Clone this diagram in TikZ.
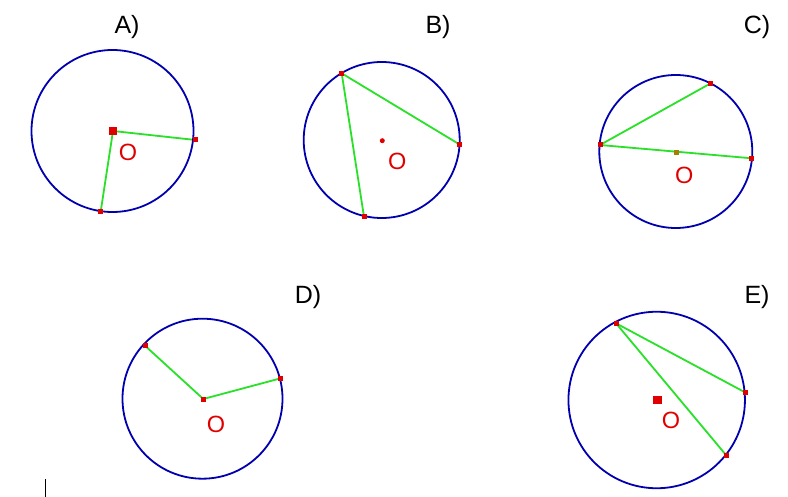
\documentclass[tikz,border=0pt]{standalone}
\usepackage{fontspec}
\setmainfont{Liberation Sans}
\usetikzlibrary{backgrounds}
\definecolor{rimblue}{RGB}{0,0,175}
\definecolor{chordgreen}{RGB}{40,225,40}
\definecolor{dotred}{RGB}{225,0,0}
\begin{document}
\begin{tikzpicture}[x=1pt, y=-1pt,
rim/.style={circle, draw=rimblue, line width=1.8pt, inner sep=0pt},
pt/.style={rectangle, fill=dotred, inner sep=0pt, minimum size=5pt},
bigpt/.style={rectangle, fill=dotred, inner sep=0pt, minimum size=8.5pt},
chord/.style={draw=chordgreen, line width=1.8pt},
tag/.style={anchor=base, inner sep=0pt, font=\fontsize{25}{25}\selectfont},
olabel/.style={text=dotred, inner sep=0pt, font=\fontsize{23.5}{23.5}\selectfont}
]
\useasboundingbox (0,0) rectangle (788,497);
%Circles
\node[rim, minimum size=162pt]   (cA) at (112.5,131) {};
\node[rim, minimum size=156pt]   (cB) at (381.7,140) {};
\node[rim, minimum size=153pt]   (cC) at (675.8,151.5) {};
\node[rim, minimum size=160pt]   (cD) at (202.5,398.7) {};
\node[rim, minimum size=176.5pt] (cE) at (656.7,400) {};
%Points
\node[bigpt] (oA) at (113,131) {};
\node[pt]    (a1) at (195.5,140) {};
\node[pt]    (a2) at (100.7,211.5) {};
\node[circle, fill=dotred, inner sep=0pt, minimum size=5pt] (oB) at (382.3,140.7) {};
\node[pt]    (b1) at (341.7,73.3) {};
\node[pt]    (b2) at (459.3,144.3) {};
\node[pt]    (b3) at (364,216.7) {};
\node[pt, fill=olive!80!red] (oC) at (676,152.7) {};
\node[pt]    (c1) at (600,145) {};
\node[pt]    (c2) at (710.7,83.3) {};
\node[pt]    (c3) at (751.7,158.3) {};
\node[pt]    (oD) at (203.3,399) {};
\node[pt]    (d1) at (145,345.7) {};
\node[pt]    (d2) at (280.7,378.3) {};
\node[bigpt] (oE) at (657.3,400) {};
\node[pt]    (e1) at (616,323.3) {};
\node[pt]    (e2) at (745,392.3) {};
\node[pt]    (e3) at (726,455) {};
%Lines
\begin{scope}[on background layer]
\draw[chord] (oA.center) -- (a1.center);
\draw[chord] (oA.center) -- (a2.center);
\draw[chord] (b1.center) -- (b2.center);
\draw[chord] (b1.center) -- (b3.center);
\draw[chord] (c1.center) -- (c2.center);
\draw[chord] (c1.center) -- (c3.center);
\draw[chord] (oD.center) -- (d1.center);
\draw[chord] (oD.center) -- (d2.center);
\draw[chord] (e1.center) -- (e2.center);
\draw[chord] (e1.center) -- (e3.center);
\end{scope}
%Labels
\node[tag] (tA) at (127,34) {A)};
\node[tag] (tB) at (438,34) {B)};
\node[tag] (tC) at (757,34) {C)};
\node[tag] (tD) at (308,304) {D)};
\node[tag] (tE) at (757,304) {E)};
\node[olabel] (lA) at (128,152) {O};
\node[olabel] (lB) at (397.3,161.7) {O};
\node[olabel] (lC) at (684.3,175.7) {O};
\node[olabel] (lD) at (216,424) {O};
\node[olabel] (lE) at (671,420) {O};
%Cursor
\coordinate (k1) at (45.5,479);
\coordinate (k2) at (45.5,497);
\draw[line width=1pt] (k1) -- (k2);
\end{tikzpicture}
\end{document}
